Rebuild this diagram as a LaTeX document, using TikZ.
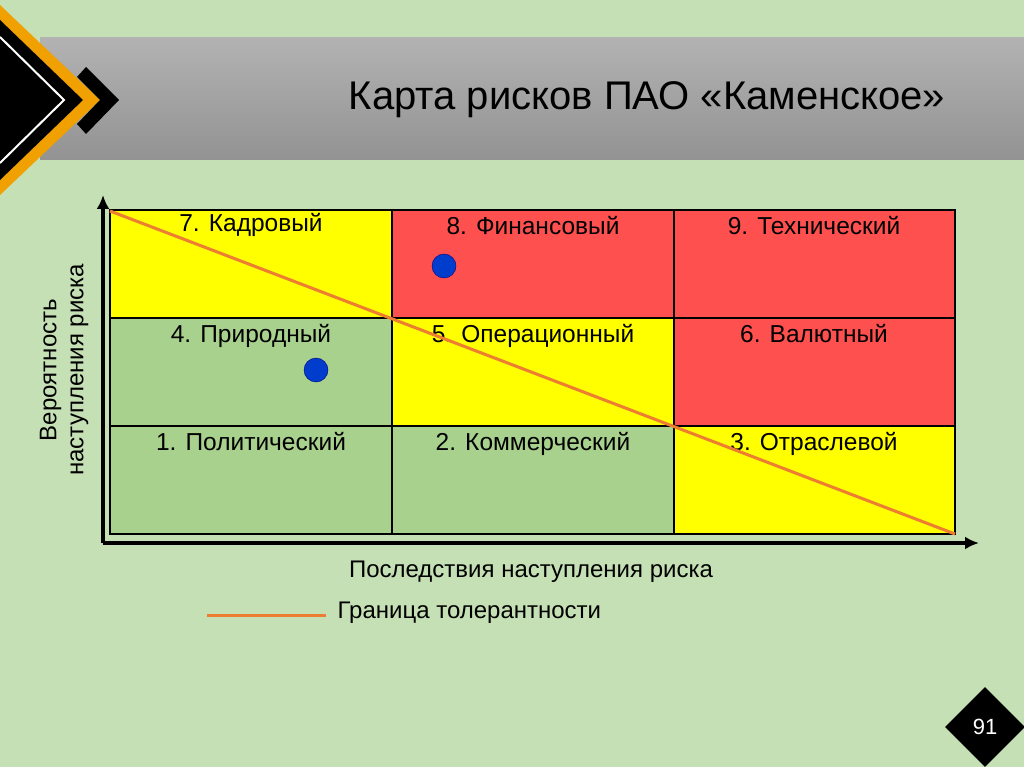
\documentclass[tikz,border=0pt]{standalone}
\usepackage{fontspec}
\setmainfont{Liberation Sans}
\usetikzlibrary{arrows.meta,shapes.geometric}
\begin{document}
\begin{tikzpicture}[x=1pt,y=-1pt,
  cell/.style={draw=black,line width=1.5pt},
  lab/.style={font=\fontsize{24.5}{28}\selectfont,anchor=north},
  dot/.style={circle,fill=blue!70!cyan!80!black,draw=blue!50!black,minimum size=24pt,inner sep=0pt}]
\definecolor{bg}{HTML}{C5E0B4}
\definecolor{ylw}{HTML}{FFFF00}
\definecolor{rd}{HTML}{FF5050}
\definecolor{grn}{HTML}{A9D18E}
\definecolor{org}{HTML}{F0A000}
\definecolor{tol}{HTML}{ED7D31}
\useasboundingbox (0,0) rectangle (1024,767);
\fill[bg] (0,0) rectangle (1024,767);
\shade[top color=gray!60,bottom color=gray!85] (40,38) rectangle (1024,160);
\fill[org] (0,5) -- (100,100) -- (0,195) -- cycle;
\fill[black] (0,20) -- (83,100) -- (0,180) -- cycle;
\draw[white,line width=2pt] (0,37) -- (64,100) -- (0,163);
\fill[black] (77,77) -- (86,67) -- (119,100) -- (86,134) -- (77,124) -- (100,100) -- cycle;
\node[font=\fontsize{40}{46}\selectfont] (title) at (647,100) {Карта рисков ПАО «Каменское»};
% grid
\draw[cell,fill=ylw] (110,210) rectangle (392,318);
\draw[cell,fill=rd] (392,210) rectangle (674,318);
\draw[cell,fill=rd] (674,210) rectangle (955,318);
\draw[cell,fill=grn] (110,318) rectangle (392,426);
\draw[cell,fill=ylw] (392,318) rectangle (674,426);
\draw[cell,fill=rd] (674,318) rectangle (955,426);
\draw[cell,fill=grn] (110,426) rectangle (392,534);
\draw[cell,fill=grn] (392,426) rectangle (674,534);
\draw[cell,fill=ylw] (674,426) rectangle (955,534);
\node[lab] (c7) at (251,210) {7. Кадровый};
\node[lab] (c8) at (533,213) {8. Финансовый};
\node[lab] (c9) at (814,213) {9. Технический};
\node[lab] (c4) at (251,321) {4. Природный};
\node[lab] (c5) at (533,321) {5. Операционный};
\node[lab] (c6) at (814,321) {6. Валютный};
\node[lab] (c1) at (251,429) {1. Политический};
\node[lab] (c2) at (533,429) {2. Коммерческий};
\node[lab] (c3) at (814,429) {3. Отраслевой};
\coordinate (t0) at (110,211);
\coordinate (t1) at (955,534);
\draw[tol,line width=3pt] (t0) -- (t1);
\node[dot] (d1) at (444,266) {};
\node[dot] (d2) at (316,370) {};
% axes
\coordinate (o) at (103,543);
\coordinate (ya) at (103,195);
\coordinate (xa) at (979,543);
\draw[line width=4pt,-{Latex[length=14pt,width=13pt]}] (o) -- (ya);
\draw[line width=4pt,-{Latex[length=14pt,width=13pt]}] (o) -- (xa);
\node[rotate=90,align=center,font=\fontsize{24}{27}\selectfont] (yl) at (64,370) {Вероятность\\наступления риска};
\node[font=\fontsize{24}{28}\selectfont] (xl) at (531,572) {Последствия наступления риска};
\coordinate (l0) at (207,615);
\coordinate (l1) at (326,615);
\draw[tol,line width=3pt] (l0) -- (l1);
\node[anchor=west,font=\fontsize{24}{28}\selectfont] (ll) at (334,613) {Граница толерантности};
\node[diamond,fill=black,minimum width=80pt,minimum height=80pt,inner sep=0pt,text=white,font=\fontsize{22}{26}\selectfont] (pg) at (985,727) {91};
\end{tikzpicture}
\end{document}
